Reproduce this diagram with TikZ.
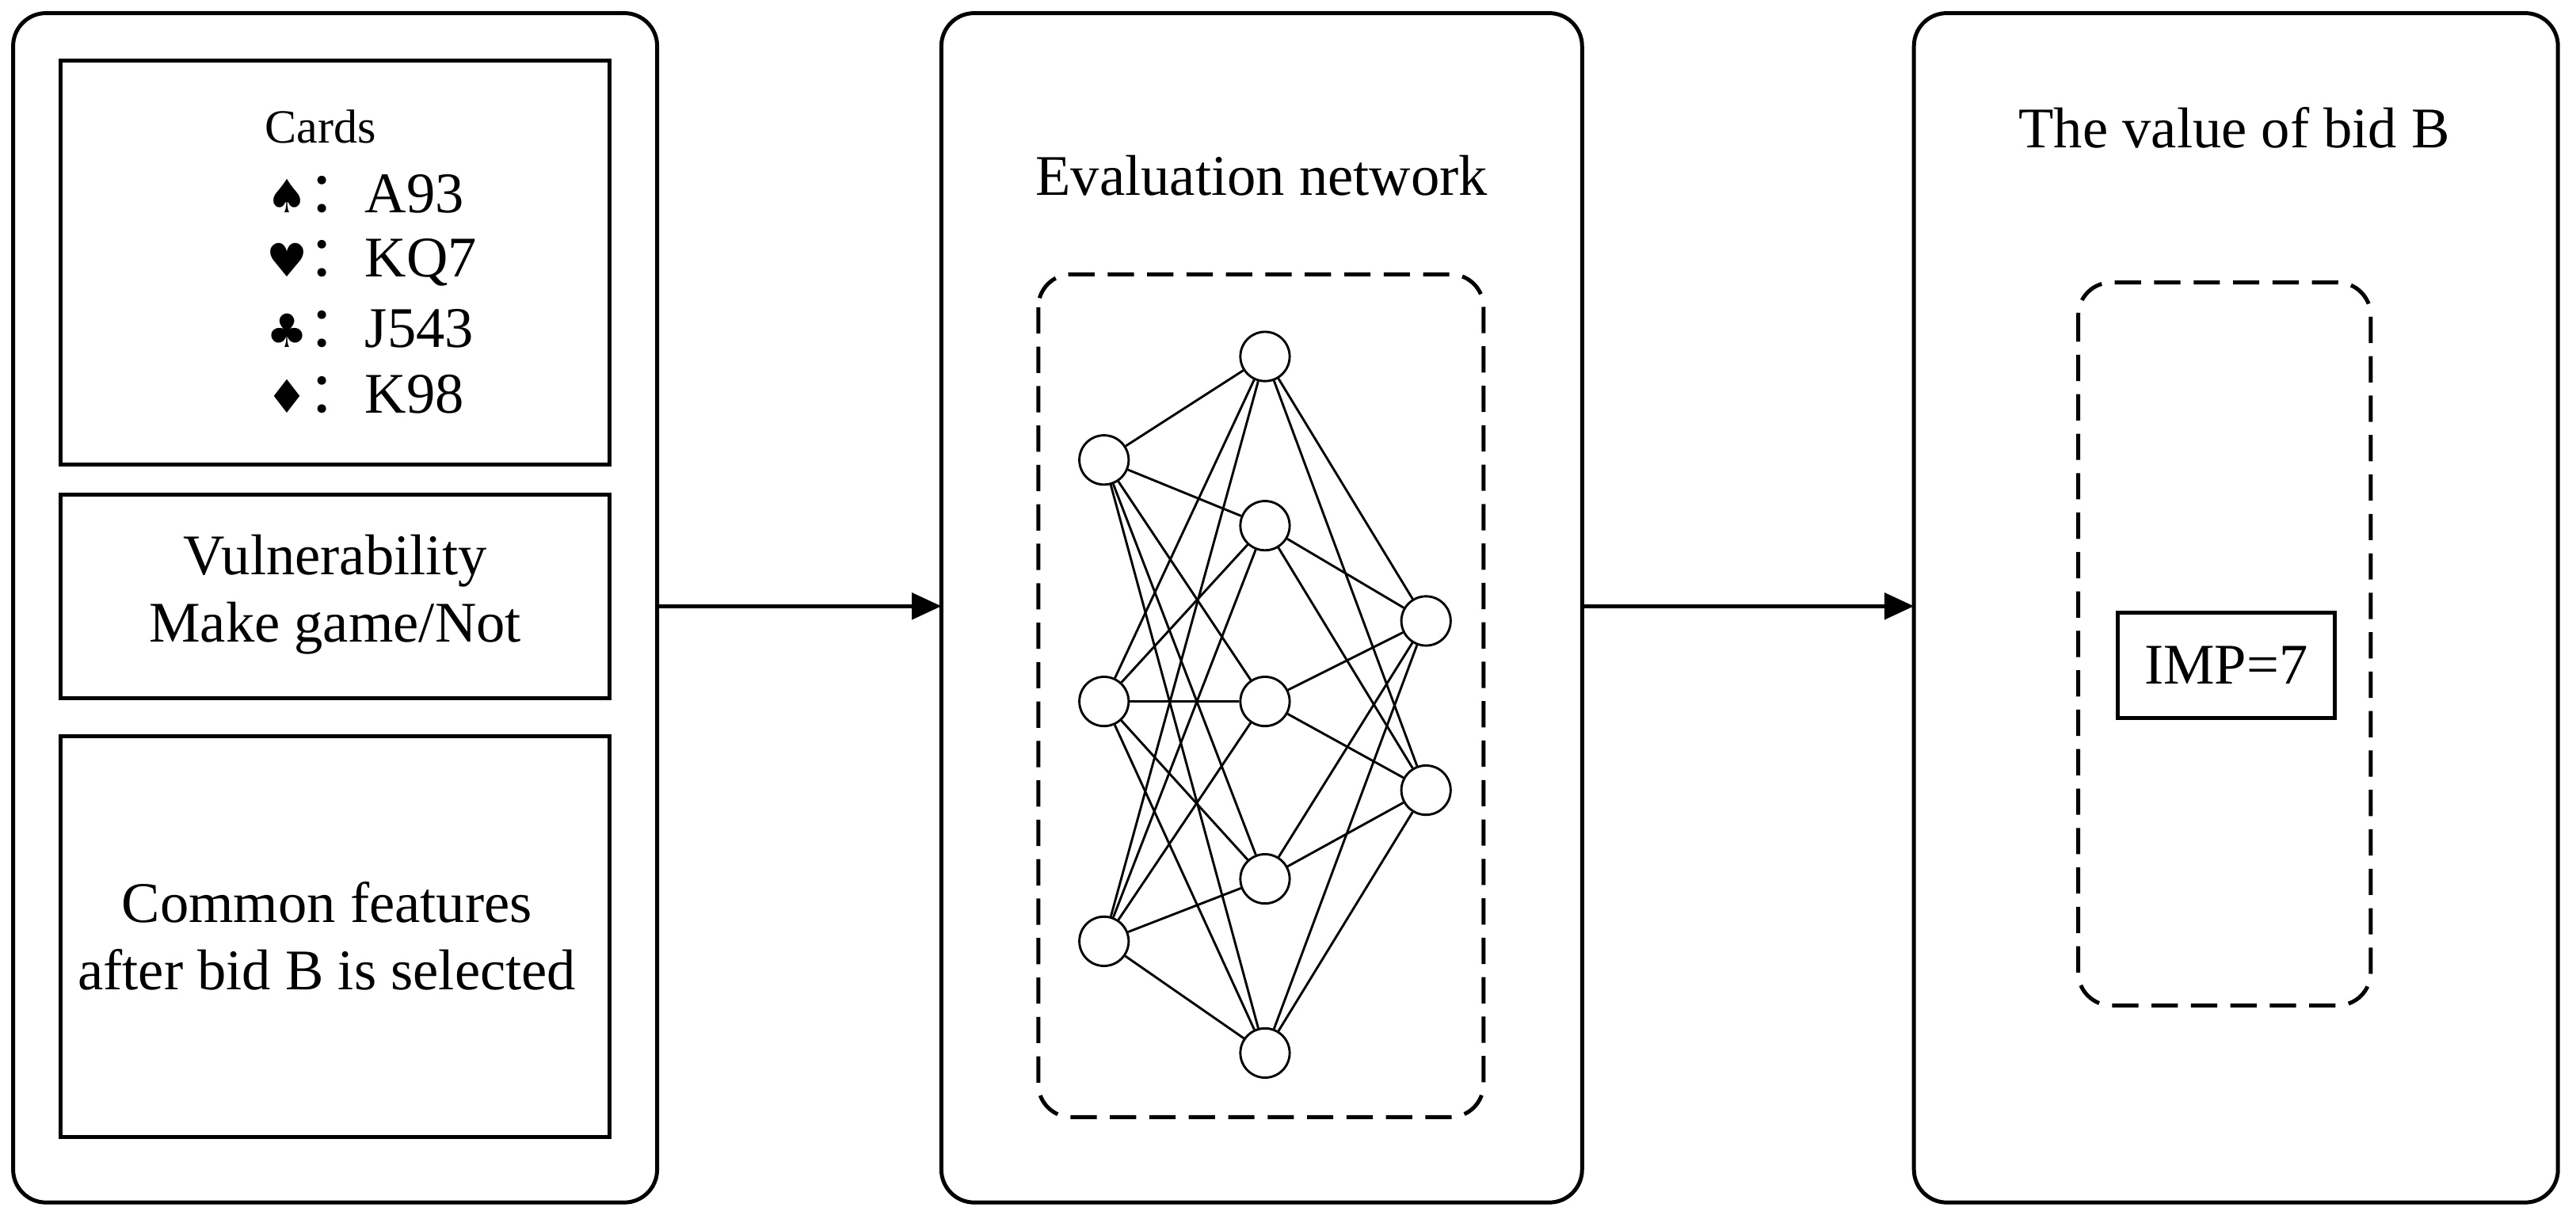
\documentclass[tikz,border=0pt]{standalone}
\usepackage{fontspec}
\setmainfont{Liberation Serif}
\newfontfamily\symf{DejaVu Sans}
\newfontfamily\cjk{Noto Sans CJK SC}
\usetikzlibrary{arrows.meta}
\begin{document}
\begin{tikzpicture}[x=0.5pt,y=-0.5pt,
  panel/.style={draw,line width=1.2pt,rounded corners=10pt},
  box/.style={draw,line width=1.2pt},
  dbox/.style={draw,line width=1.2pt,dashed,dash pattern=on 8pt off 4pt,rounded corners=10pt},
  neu/.style={circle,draw,line width=0.7pt,minimum size=15pt,inner sep=0pt,fill=white},
  txt/.style={font=\fontsize{17.5}{20.5}\selectfont,align=center},
  arr/.style={-{Triangle[length=9pt,width=8pt]},line width=1.2pt}]
\useasboundingbox (0,0) rectangle (1568,742);
\draw[panel] (8,8) rectangle (400,732);
\draw[box] (37,37) rectangle (371,283);
\draw[box] (37,301) rectangle (371,425);
\draw[box] (37,448) rectangle (371,692);
\node[txt,font=\fontsize{14.5}{17}\selectfont] (cards) at (195,77) {Cards};
\node[txt,anchor=west] (s1) at (155,118) {{\symf\fontsize{14}{17}\selectfont ♠}{\cjk ：}A93};
\node[txt,anchor=west] (s2) at (155,160) {{\symf\fontsize{14}{17}\selectfont ♥}{\cjk ：}KQ7};
\node[txt,anchor=west] (s3) at (155,200) {{\symf\fontsize{14}{17}\selectfont ♣}{\cjk ：}J543};
\node[txt,anchor=west] (s4) at (155,240) {{\symf\fontsize{14}{17}\selectfont ♦}{\cjk ：}K98};
\node[txt] (vul) at (204,362) {Vulnerability\\Make game/Not};
\node[txt] (com) at (199,570) {Common features\\after bid B is selected};
\draw[panel] (573,8) rectangle (963,732);
\node[txt] (ent) at (768,107) {Evaluation network};
\draw[dbox] (632,167) rectangle (903,680);
\draw[panel] (1165,8) rectangle (1557,732);
\node[txt] (vt) at (1360,78) {The value of bid B};
\draw[dbox] (1265,172) rectangle (1443,612);
\node[box,txt,minimum width=66pt,minimum height=32pt] (imp) at (1355,405) {IMP=7};
\coordinate (a1) at (400,369); \coordinate (a2) at (573,369);
\coordinate (b1) at (963,369); \coordinate (b2) at (1165,369);
\draw[arr] (a1) -- (a2);
\draw[arr] (b1) -- (b2);
\foreach \i/\y in {1/280,2/427,3/573} \node[neu] (i\i) at (672,\y) {};
\foreach \i/\y in {1/217,2/320,3/427,4/535,5/641} \node[neu] (h\i) at (770,\y) {};
\foreach \i/\y in {1/378,2/481} \node[neu] (o\i) at (868,\y) {};
\foreach \a in {1,2,3} \foreach \b in {1,...,5} \draw[line width=0.7pt] (i\a) -- (h\b);
\foreach \a in {1,...,5} \foreach \b in {1,2} \draw[line width=0.7pt] (h\a) -- (o\b);
\end{tikzpicture}
\end{document}
